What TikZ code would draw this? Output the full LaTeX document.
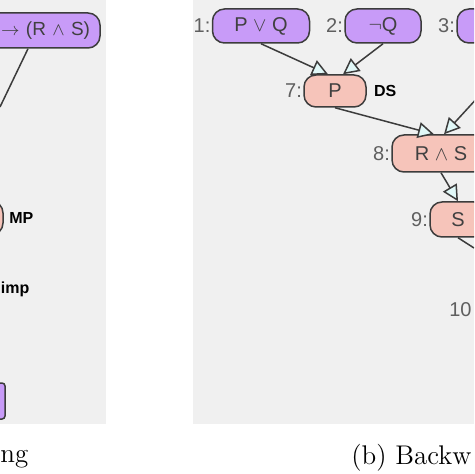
\documentclass[tikz,border=0pt]{standalone}
\usepackage{fontspec}
\newfontfamily\guifont{Liberation Sans}
\usetikzlibrary{arrows.meta,positioning}
\definecolor{panelgray}{RGB}{240,240,240}
\definecolor{premfill}{RGB}{200,155,248}
\definecolor{derfill}{RGB}{246,196,186}
\definecolor{edgegray}{RGB}{60,60,60}
\definecolor{numgray}{RGB}{95,95,95}
\definecolor{tipfill}{RGB}{225,248,248}
\tikzset{
  premise/.style={draw=edgegray,line width=0.75pt,fill=premfill,rounded corners=6pt,
    font=\guifont\fontsize{10}{11}\selectfont,text=black!75,inner sep=0pt},
  derived/.style={premise,fill=derfill},
  num/.style={text=numgray,font=\guifont\fontsize{10}{11}\selectfont,inner sep=0.5pt},
  rule/.style={font=\guifont\bfseries\fontsize{8}{9}\selectfont,inner sep=0pt},
  captext/.style={font=\fontsize{13.5}{16}\selectfont,inner sep=0pt},
  infer/.style={draw=edgegray,line width=0.75pt,-{Triangle[length=8pt,width=8pt,fill=tipfill]}},
  link/.style={draw=edgegray,line width=0.75pt}
}

\begin{document}
\begin{tikzpicture}[x=0.5pt,y=-0.5pt]
    \useasboundingbox (0,0) rectangle (474,474);
    \clip (0,0) rectangle (474,474);
    % panels
    \fill[panelgray] (0,0) rectangle (106,424);
    \fill[panelgray] (193,0) rectangle (474,424);

    % (a) left panel, cut off
    \node[premise,font=\guifont\fontsize{9.5}{11}\selectfont,text width=60pt,align=right,inner xsep=5pt,minimum height=17.5pt] (fa3) at (30,30.5) {$\rightarrow$ (R $\wedge$ S)};
    \node[derived,minimum width=20pt,minimum height=17pt] (fmp) at (-17,218) {};
    \node[rule,anchor=west] (fmprule) at (9,218) {MP};
    \node[rule,anchor=west] (fimprule) at (0.5,289) {imp};
    \node[premise,rounded corners=1.5pt,minimum width=15pt,minimum height=18pt] (fgoal) at (-10,401) {};
    \coordinate (fcut) at (0,107);
    \draw[link] ([xshift=-1pt]fa3.south) -- (fcut);

    % (b) backward
    \node[premise,minimum width=48.5pt,minimum height=17pt,label={[num]left:{1:}}] (b1) at (261,26) {P $\vee$ Q};
    \node[premise,minimum width=38pt,minimum height=17pt,label={[num]left:{2:}}] (b2) at (383,26) {$\neg$Q};
    \node[premise,minimum width=70pt,minimum height=17pt,label={[num]left:{3:}}] (b3) at (527,26) {};
    \node[derived,minimum width=31pt,minimum height=16pt,label={[num]left:{7:}},label={[rule,xshift=3.5pt]right:DS}] (b7) at (335,91) {P};
    \node[derived,minimum width=49pt,minimum height=18.5pt,label={[num]left:{8:}}] (b8) at (441,153.5) {R $\wedge$ S};
    \node[derived,minimum width=28pt,minimum height=17.5pt,label={[num]left:{9:}}] (b9) at (458,219.5) {S};
    \node[num,anchor=east] (b10num) at (473,310) {10};
    \coordinate (bcut) at (474,248);

    \draw[infer] (b1.south) -- ([xshift=-3.5pt]b7.north);
    \draw[infer] (b2.south) -- ([xshift=4pt]b7.north);
    \draw[infer] (b7.south) -- ([xshift=-3.5pt]b8.north);
    \draw[infer] (b3.south) -- ([xshift=1.5pt]b8.north);
    \draw[infer] (b8.south) -- (b9.north);
    \draw[link] (b9.south) -- (bcut);

    % captions
    \node[captext,anchor=base west] (capa) at (0,462) {ng};
    \node[captext,anchor=base west] (capb) at (351,464) {(b) Backw};
\end{tikzpicture}
\end{document}
